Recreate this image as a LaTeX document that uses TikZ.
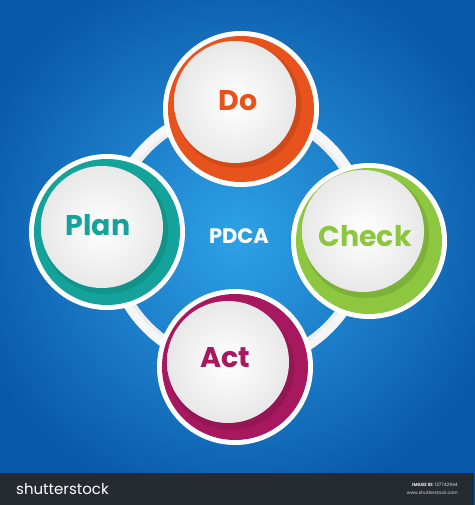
\documentclass[tikz,border=0pt]{standalone}
\usepackage{fontspec}
\setmainfont{Poppins}
\definecolor{doC}{HTML}{E8521C}
\definecolor{checkC}{HTML}{8DC63F}
\definecolor{actC}{HTML}{A8185E}
\definecolor{planC}{HTML}{13A39A}
\definecolor{bgIn}{HTML}{2DA2E6}
\definecolor{bgOut}{HTML}{0A58AA}
\definecolor{barC}{HTML}{262A31}
\definecolor{faceOut}{HTML}{E8E8E8}
\definecolor{ringC}{HTML}{F4F6F8}
\begin{document}
\begin{tikzpicture}[x=1pt,y=-1pt,
  rim/.style={circle, fill=white, minimum size=156pt, inner sep=0pt},
  band/.style={circle, fill=#1, minimum size=146pt, inner sep=0pt},
  shadowdisk/.style={circle, fill=black, opacity=0.10, minimum size=126pt, inner sep=0pt},
  face/.style={circle, inner color=white, outer color=faceOut, minimum size=122pt, inner sep=0pt},
  label/.style={text=#1, font=\bfseries\fontsize{28.5}{30}\selectfont, inner sep=0pt},
  title/.style={text=white, font=\bfseries\fontsize{21}{24}\selectfont, inner sep=0pt}
]
\useasboundingbox (0,0) rectangle (474,505);
% background
\shade[inner color=bgIn, outer color=bgOut] (-40,-40) rectangle (514,513);
\fill[barC] (0,473) rectangle (474,505);
% connecting ring
\coordinate (mid) at (238,237);
\draw[line width=12pt, ringC] (mid) circle[radius=128];
\draw[line width=3pt, gray!14] (mid) circle[radius=124];
% Do
\node[rim] (doRim) at (241,109) {};
\node[band=doC] (doBand) at (241,109) {};
\node[shadowdisk] (doSh) at (238,105) {};
\node[face] (doFace) at (235,102) {};
\node[label=doC] (doTxt) at (238,101) {Do};
% Check
\node[rim] (ckRim) at (369,241) {};
\node[band=checkC] (ckBand) at (369,241) {};
\node[shadowdisk] (ckSh) at (366,235) {};
\node[face] (ckFace) at (363,231) {};
\node[label=checkC] (ckTxt) at (365,236) {Check};
% Act
\node[rim] (actRim) at (235,367) {};
\node[band=actC] (actBand) at (235,367) {};
\node[shadowdisk] (actSh) at (231,367) {};
\node[face] (actFace) at (228,362) {};
\node[label=actC] (actTxt) at (225,358) {Act};
% Plan
\node[rim] (plRim) at (107,232) {};
\node[band=planC] (plBand) at (107,232) {};
\node[shadowdisk] (plSh) at (105,231) {};
\node[face] (plFace) at (102,227) {};
\node[label=planC] (plTxt) at (98,225) {Plan};
% centre title
\node[title] (pdca) at (239,236) {PDCA};
% bottom bar texts
\node[text=white, font=\fontsize{15}{17}\selectfont, anchor=west, inner sep=0pt] (logo) at (16,489) {shutterstock};
\node[text=white!80!gray, font=\fontsize{4.5}{5}\selectfont, anchor=east, inner sep=0pt] (imgid) at (458,485) {\textbf{IMAGE ID:} 137742944};
\node[text=white!70!gray, font=\fontsize{4.5}{5}\selectfont, anchor=east, inner sep=0pt] (www) at (458,493) {www.shutterstock.com};
\end{tikzpicture}
\end{document}
